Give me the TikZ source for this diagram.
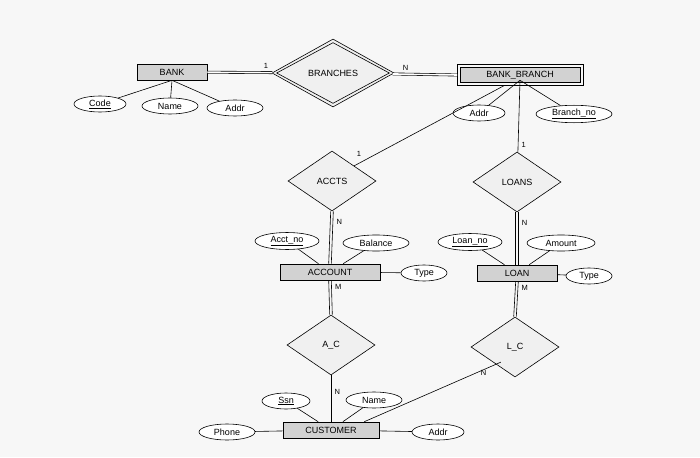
\documentclass[tikz,border=0pt]{standalone}
\usepackage{fontspec}
\setmainfont{Liberation Sans}
\usetikzlibrary{shapes.geometric}
\begin{document}
\begin{tikzpicture}[x=1pt,y=-1pt,font=\fontsize{9}{10}\selectfont,line width=0.6pt,
  ent/.style={draw,fill=gray!35,minimum height=16,inner sep=1pt},
  rel/.style={draw,diamond,fill=gray!12,aspect=1.5,inner sep=0pt},
  att/.style={draw,ellipse,fill=white,minimum height=16,inner sep=1pt},
  dbl/.style={double=white,double distance=1.6pt},
  lbl/.style={font=\fontsize{7.5}{9}\selectfont}]
\fill[gray!6] (0,0) rectangle (700,457);
\useasboundingbox (0,0) rectangle (700,457);
\node[ent,minimum width=70] (bank) at (172,72) {BANK};
\node[rel,minimum width=122,minimum height=68] (br) at (333,73) {BRANCHES};
\draw ([yshift=-4pt]br.north) -- ([xshift=-5pt]br.east) -- ([yshift=4pt]br.south) -- ([xshift=5pt]br.west) -- cycle;
\node[ent,minimum width=120,minimum height=15] (bb) at (520,75) {BANK\_BRANCH};
\draw ([shift={(-2.5,-2.5)}]bb.north west) rectangle ([shift={(2.5,2.5)}]bb.south east);
\node[att,minimum width=52] (code) at (100,104) {\underline{Code}};
\node[att,minimum width=56] (bname) at (170,106) {Name};
\node[att,minimum width=56] (baddr) at (235,108) {Addr};
\node[att,minimum width=52] (bbaddr) at (479,113) {Addr};
\node[att,minimum width=76] (bno) at (574,114) {\underline{Branch\_no}};
\node[rel,minimum width=88,minimum height=60] (accts) at (332,181) {ACCTS};
\node[rel,minimum width=88,minimum height=60] (loans) at (517,182) {LOANS};
\node[att,minimum width=64] (acno) at (287,241) {\underline{Acct\_no}};
\node[att,minimum width=66] (bal) at (376,243) {Balance};
\node[att,minimum width=64] (lno) at (470,242) {\underline{Loan\_no}};
\node[att,minimum width=68] (amt) at (561,243) {Amount};
\node[ent,minimum width=100] (acc) at (330,272) {ACCOUNT};
\node[att,minimum width=46] (atype) at (424,273) {Type};
\node[ent,minimum width=80] (loan) at (517,273) {LOAN};
\node[att,minimum width=46] (ltype) at (589,276) {Type};
\node[rel,minimum width=88,minimum height=60] (ac) at (331,345) {A\_C};
\node[rel,minimum width=88,minimum height=60] (lc) at (515,347) {L\_C};
\node[att,minimum width=48] (ssn) at (286,401) {\underline{Ssn}};
\node[att,minimum width=56] (cname) at (374,400) {Name};
\node[ent,minimum width=96] (cust) at (331,430) {CUSTOMER};
\node[att,minimum width=56] (phone) at (227,432) {Phone};
\node[att,minimum width=52] (caddr) at (438,432) {Addr};
\draw[dbl] (bank) -- (br) node[lbl,pos=0.9,above] {1};
\draw[dbl] (br) -- ([xshift=-2.5pt]bb.west) node[lbl,pos=0.2,above] {N};
\draw (bank.south) -- (code); \draw (bank.south) -- (bname); \draw (bank.south) -- (baddr);
\draw ([yshift=2.5pt]bb.south) -- (bbaddr); \draw ([yshift=2.5pt]bb.south) -- (bno);
\draw ([shift={(45,2.5)}]bb.south west) -- (accts.north east) node[lbl,pos=0.93,above left] {1};
\draw ([yshift=2.5pt]bb.south) -- (loans) node[lbl,pos=0.9,right] {1};
\foreach \a/\b/\t in {accts/acc/N,loans/loan/N,acc/ac/M,loan/lc/M}{
  \draw ([xshift=-1.3pt]\a.south) -- ([xshift=-1.3pt]\b.north);
  \draw ([xshift=1.3pt]\a.south) -- ([xshift=1.3pt]\b.north) node[lbl,pos=0.2,right] {\t};
}
\draw (acc) -- (acno); \draw (acc) -- (bal); \draw (acc) -- (atype);
\draw (loan) -- (lno); \draw (loan) -- (amt); \draw (loan) -- (ltype);
\draw (ac) -- (cust) node[lbl,pos=0.35,right] {N};
\draw (lc.south west) ++(8,0) -- ([xshift=-15pt]cust.north east) node[lbl,pos=0.08,below left] {N};
\draw (cust) -- (ssn); \draw (cust) -- (cname); \draw (cust) -- (phone); \draw (cust) -- (caddr);
\end{tikzpicture}
\end{document}
